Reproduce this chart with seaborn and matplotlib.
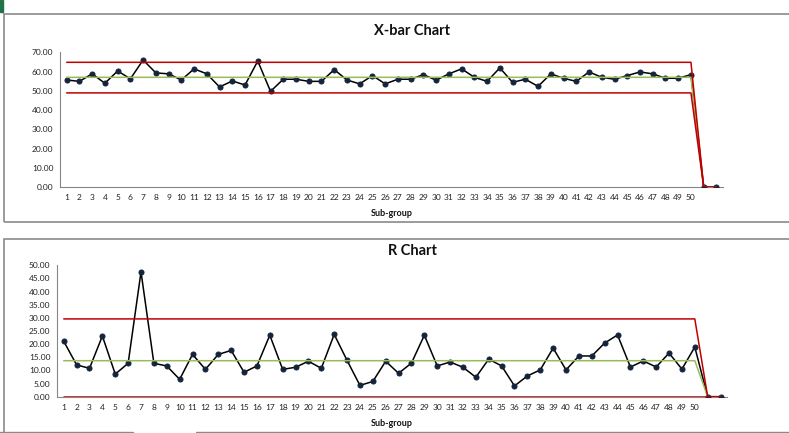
import numpy as np
import pandas as pd
import seaborn as sns
import matplotlib.pyplot as plt
from matplotlib.lines import Line2D
from matplotlib.patches import Rectangle

# valores (subgrupos 1..50 e mais dois pontos zerados no fim)
subgrupos = list(range(1, 53))
rotulos_x = [str(i) for i in range(1, 51)] + ["", ""]

media_xbar = [55.6, 54.9, 58.8, 53.9, 60.3, 56.2, 66.0, 59.3, 58.8, 55.6,
              61.4, 58.8, 52.0, 55.1, 53.0, 65.5, 49.7, 56.0, 56.0, 54.9,
              54.9, 61.0, 55.6, 53.6, 57.9, 53.6, 56.0, 56.0, 58.4, 55.5,
              58.8, 61.4, 57.0, 54.9, 61.9, 54.4, 56.0, 52.3, 58.8, 56.5,
              54.9, 59.8, 57.0, 56.0, 57.9, 59.8, 58.8, 56.5, 56.5, 58.4,
              0.0, 0.0]
lsc_xbar = [64.8] * 50 + [0.0, 0.0]
lc_xbar = [57.0] * 50 + [0.0, 0.0]
lic_xbar = [48.9] * 50 + [0.0, 0.0]

amplitude = [21.1, 12.1, 10.8, 23.1, 8.6, 12.7, 47.5, 12.7, 11.7, 6.6,
             16.1, 10.4, 16.1, 17.6, 9.3, 11.7, 23.4, 10.4, 11.2, 13.5,
             10.8, 23.7, 13.8, 4.3, 5.8, 13.5, 8.9, 12.8, 23.4, 11.7,
             13.2, 11.2, 7.4, 14.3, 11.7, 4.1, 7.9, 10.2, 18.5, 10.2,
             15.5, 15.5, 20.4, 23.5, 11.3, 13.6, 11.3, 16.6, 10.5, 18.9,
             0.0, 0.0]
lsc_r = [29.6] * 50 + [0.0, 0.0]
lc_r = [13.7] * 50 + [0.0, 0.0]
lic_r = [0.0] * 52

sns.set_style("white")
plt.rcParams['font.family'] = ['Lato', 'DejaVu Sans']

cor_dados = '#000000'
cor_marcador = '#14243d'
cor_limite = '#c00000'
cor_central = '#9bbb59'
cor_eixo = '#868686'
cor_borda = '#8a8a8a'

fig = plt.figure(figsize=(7.89, 4.33), dpi=100)
W, H = 789, 433


def px(x0, y0, x1, y1):
    # converte caixa em pixels (topo-esquerda) para fracao da figura
    return [x0 / W, 1 - y1 / H, (x1 - x0) / W, (y1 - y0) / H]


# molduras dos dois graficos (estilo Excel)
fig.patches.append(Rectangle((4 / W, 1 - 222 / H), 1.0, (222 - 14) / H,
                             transform=fig.transFigure, fill=False,
                             edgecolor=cor_borda, linewidth=1.2))
fig.patches.append(Rectangle((4 / W, 1 - 440 / H), 1.0, (440 - 239) / H,
                             transform=fig.transFigure, fill=False,
                             edgecolor=cor_borda, linewidth=1.2))
fig.add_artist(Line2D([0, 132 / W], [1 - 431.5 / H] * 2, transform=fig.transFigure,
                      color=cor_borda, linewidth=1.0))
fig.add_artist(Line2D([196 / W, 1], [1 - 431.5 / H] * 2, transform=fig.transFigure,
                      color=cor_borda, linewidth=1.0))
fig.add_artist(Line2D([133 / W, 133 / W], [1 - 431.5 / H, 0], transform=fig.transFigure,
                      color=cor_borda, linewidth=1.0))
fig.patches.append(Rectangle((0, 1 - 12 / H), 3 / W, 12 / H, transform=fig.transFigure,
                             color='#217346'))


def desenha(ax, valores, lsc, lc, lic, ymax, passo, titulo, y_titulo, y_sub):
    df = pd.DataFrame({'subgrupo': subgrupos, 'valor': valores,
                       'lsc': lsc, 'lc': lc, 'lic': lic})
    sns.lineplot(data=df, x='subgrupo', y='valor', ax=ax, color=cor_dados,
                 linewidth=1.1, marker='o', markersize=3.6,
                 markerfacecolor=cor_marcador, markeredgecolor=cor_marcador, zorder=3)
    sns.lineplot(data=df, x='subgrupo', y='lc', ax=ax, color=cor_central,
                 linewidth=1.1, zorder=4)
    sns.lineplot(data=df, x='subgrupo', y='lsc', ax=ax, color=cor_limite,
                 linewidth=1.1, zorder=5)
    sns.lineplot(data=df, x='subgrupo', y='lic', ax=ax, color=cor_limite,
                 linewidth=1.1, zorder=5)

    ax.set_xlim(0.5, 52.5)
    ax.set_ylim(0, ymax)
    ax.set_yticks(np.arange(0, ymax + 0.01, passo))
    ax.set_yticklabels([f"{v:.2f}" for v in np.arange(0, ymax + 0.01, passo)])
    ax.set_xticks(subgrupos)
    ax.set_xticklabels(rotulos_x)
    ax.set_xticks(np.arange(0.5, 53, 1), minor=True)
    ax.tick_params(axis='x', which='major', length=0, labelsize=6, pad=5, colors='#222222')
    ax.tick_params(axis='x', which='minor', length=3, width=0.8, color=cor_eixo,
                   direction='out')
    ax.tick_params(axis='y', length=3, width=0.8, color=cor_eixo, direction='out',
                   labelsize=6, pad=2, labelcolor='#222222')
    ax.set_xlabel('')
    ax.set_ylabel('')
    for lado in ['top', 'right']:
        ax.spines[lado].set_visible(False)
    for lado in ['left', 'bottom']:
        ax.spines[lado].set_color(cor_eixo)
        ax.spines[lado].set_linewidth(0.8)
    ax.patch.set_alpha(0)

    fig.text(412 / W, 1 - y_titulo / H, titulo, ha='center', va='center',
             fontsize=10.5, fontweight='bold', color='#111111')
    fig.text(392 / W, 1 - y_sub / H, 'Sub-group', ha='center', va='center',
             fontsize=6.5, fontweight='bold', color='#111111')


ax1 = fig.add_axes(px(60.3, 52.3, 722.8, 187))
desenha(ax1, media_xbar, lsc_xbar, lc_xbar, lic_xbar, 70, 10, 'X-bar Chart', 31, 214)

ax2 = fig.add_axes(px(57.3, 265.3, 727, 396.7))
desenha(ax2, amplitude, lsc_r, lc_r, lic_r, 50, 5, 'R Chart', 251, 424)

plt.savefig('out.png', dpi=100)
